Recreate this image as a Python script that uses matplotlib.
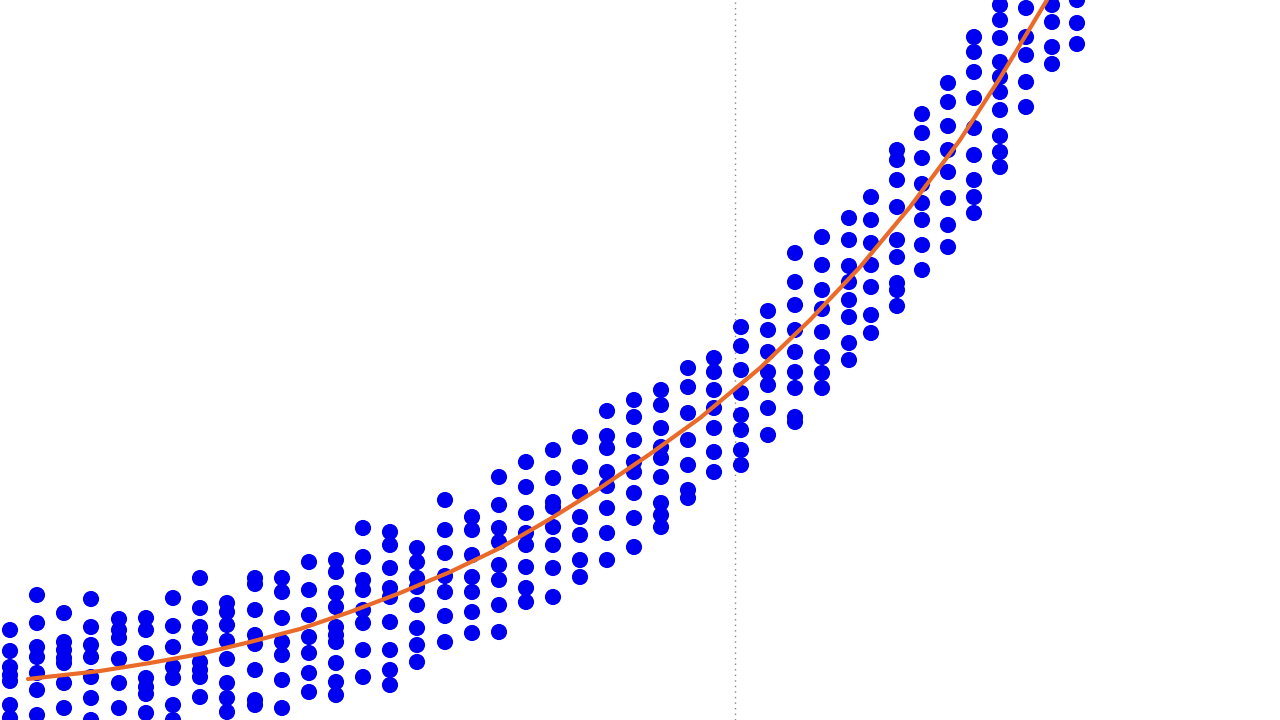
import numpy as np
import matplotlib.pyplot as plt

# posiciones de las columnas de puntos
col_x = [10, 37, 64, 91, 119, 146, 173, 200, 227, 255, 282, 309, 336, 363,
         390, 417, 445, 472, 499, 526, 553, 580, 607, 634, 661, 688, 714,
         741, 768, 795, 822, 849, 871, 897, 922, 948, 974, 1000, 1026, 1052,
         1077]

# valores de cada columna
col_y = [
    [90, 69, 53, 45, 39, 15, 2],
    [125, 97, 73, 63, 47, 30, 5],
    [107, 78, 70, 62, 57, 37, 12],
    [121, 93, 75, 63, 43, 22, 0],
    [101, 90, 82, 61, 37, 12],
    [102, 90, 67, 42, 33, 26, 7],
    [122, 94, 73, 53, 42, 15, 0],
    [142, 112, 93, 82, 58, 50, 43, 23],
    [117, 108, 95, 79, 61, 37, 22, 8],
    [142, 136, 110, 85, 76, 50, 20, 15],
    [142, 128, 102, 78, 65, 40, 12],
    [158, 130, 105, 83, 67, 47, 28],
    [160, 148, 127, 113, 93, 85, 78, 57, 38, 25],
    [192, 163, 140, 130, 110, 97, 70, 43],
    [188, 175, 152, 132, 123, 98, 70, 50, 35],
    [172, 158, 142, 133, 115, 92, 75, 58],
    [220, 190, 167, 144, 128, 104, 78],
    [203, 190, 165, 143, 128, 108, 87],
    [243, 215, 192, 178, 155, 140, 115, 88],
    [258, 233, 207, 187, 175, 153, 132, 118],
    [270, 242, 218, 213, 193, 175, 152, 123],
    [283, 253, 228, 203, 185, 160, 143],
    [309, 284, 272, 248, 234, 212, 187, 160],
    [320, 303, 280, 258, 248, 227, 202, 173],
    [330, 315, 292, 273, 262, 243, 217, 205, 193],
    [352, 333, 307, 280, 255, 230, 222],
    [362, 348, 330, 312, 292, 268, 248],
    [393, 374, 350, 327, 305, 290, 270, 255],
    [409, 390, 368, 348, 335, 312, 285],
    [467, 438, 415, 390, 368, 348, 332, 303, 298],
    [483, 455, 430, 411, 388, 363, 347, 332],
    [502, 480, 454, 438, 420, 403, 377, 360],
    [523, 500, 477, 455, 433, 405, 387],
    [570, 560, 540, 513, 480, 463, 437, 430, 414],
    [606, 587, 562, 536, 517, 500, 475, 450],
    [637, 618, 594, 570, 548, 522, 495, 473],
    [683, 668, 648, 622, 592, 565, 540, 523, 507],
    [715, 700, 682, 658, 643, 628, 610, 584, 568, 553],
    [712, 683, 665, 638, 613],
    [715, 698, 673, 656],
    [720, 697, 676],
]

# curva de ajuste
curva_x = [28, 100, 150, 200, 250, 300, 350, 400, 450, 500, 550, 600, 650,
           700, 760, 810, 860, 910, 960, 1000, 1047]
curva_y = [41, 49, 57, 66, 78, 91, 108, 127, 148, 172, 201, 232, 266,
           302, 352, 400, 453, 513, 580, 642, 720]

linea_x = 735

xs = []
ys = []
for x, col in zip(col_x, col_y):
    for v in col:
        xs.append(x)
        ys.append(v)

fig = plt.figure(figsize=(12.8, 7.2), dpi=100)
ax = fig.add_axes([0, 0, 1, 1])

ax.axvline(linea_x, color='#888888', linestyle=(0, (1, 3)), linewidth=1)
ax.scatter(xs, ys, s=135, color='#0000f0', edgecolors='none', zorder=2)
ax.plot(curva_x, curva_y, color='#ea6a2a', linewidth=3, zorder=3,
        solid_capstyle='round', solid_joinstyle='round')

ax.set_xlim(0, 1280)
ax.set_ylim(0, 720)
ax.axis('off')

fig.savefig('out.png', dpi=100, facecolor='white')
